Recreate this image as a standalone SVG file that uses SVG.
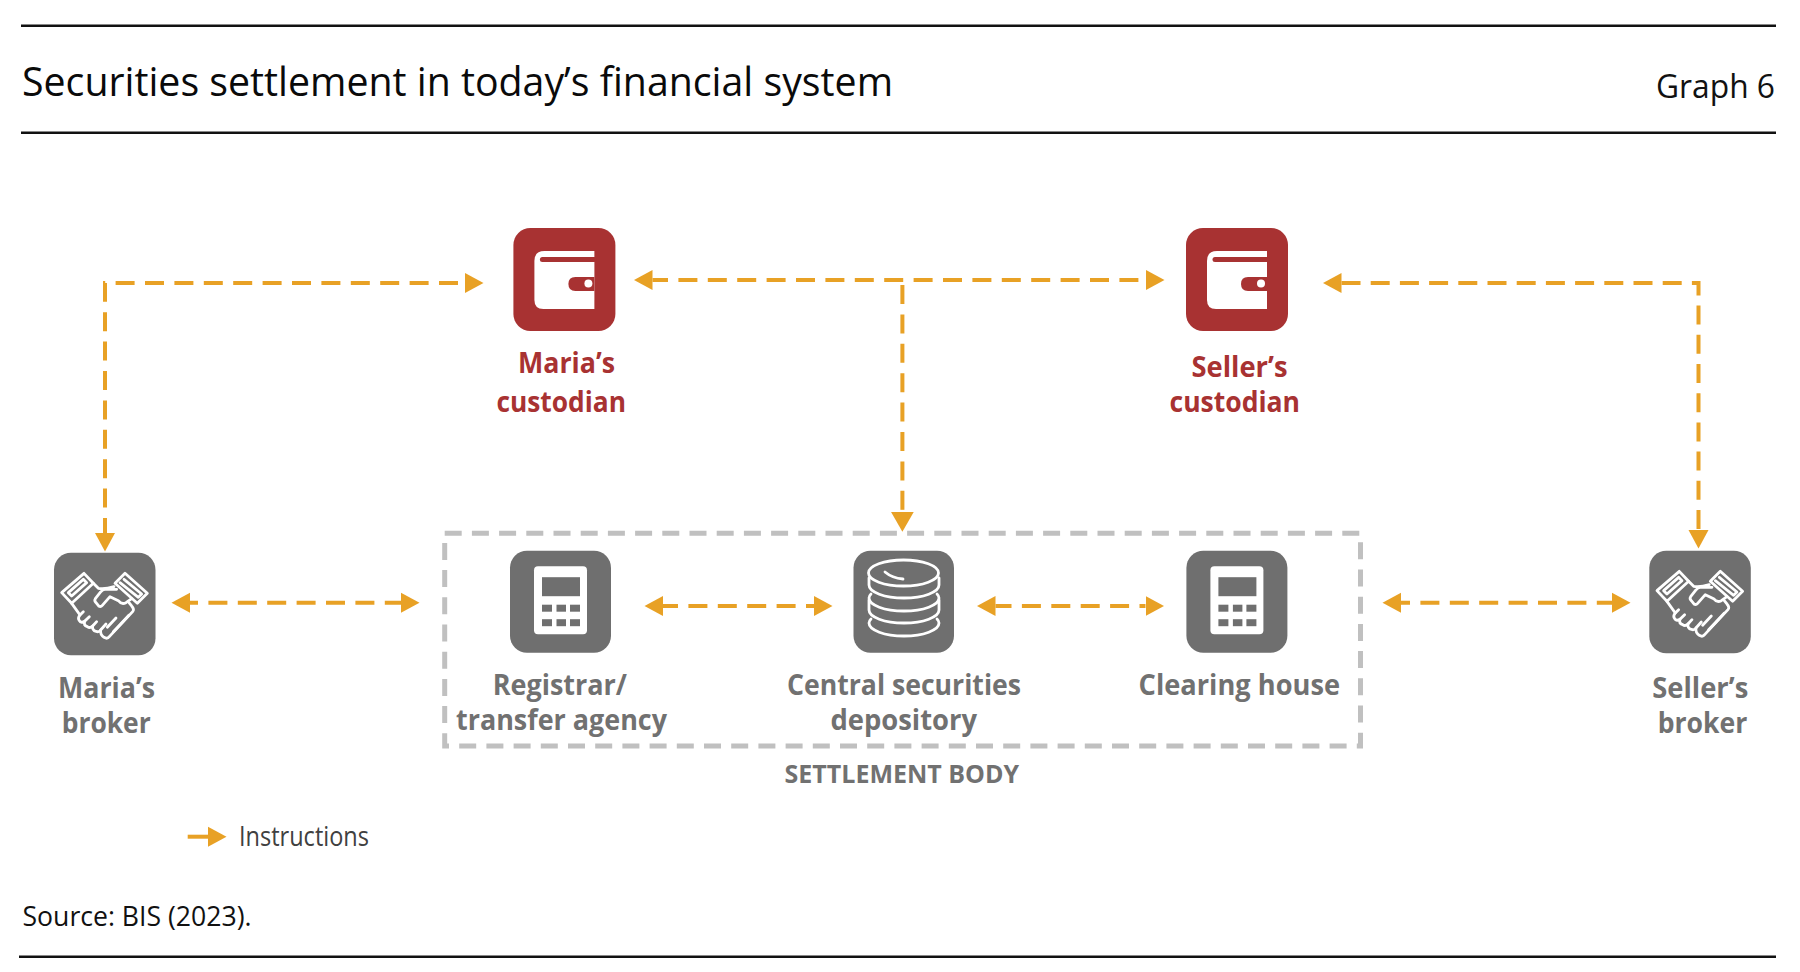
<svg xmlns="http://www.w3.org/2000/svg" width="1800" height="972" viewBox="0 0 1800 972">
<style>
.rule{stroke:#111;stroke-width:2.6;fill:none}
.conn{fill:none;stroke:#e8a125;stroke-width:4;stroke-dasharray:19 10.4}
.solid{fill:none;stroke:#e8a125;stroke-width:4}
.lbl{font-family:"Open Sans","Liberation Sans",sans-serif;font-weight:700;font-size:28px}
.g{fill:#717171}
.r{fill:#a83232}
.plain{font-family:"Open Sans","Liberation Sans",sans-serif;font-weight:400}
.ln{fill:none;stroke:#fff;stroke-width:2.8;stroke-linecap:round;stroke-linejoin:round}
.hs{fill:none;stroke:#fff;stroke-width:8.400;stroke-linecap:round;stroke-linejoin:round}
</style>
<defs>
<marker id="ah" markerUnits="userSpaceOnUse" markerWidth="20" markerHeight="24" refX="0" refY="12" orient="auto-start-reverse">
<path d="M0 2 L18.5 12 L0 22 Z" fill="#e8a125"/>
</marker>
<marker id="ahw" markerUnits="userSpaceOnUse" markerWidth="22" markerHeight="26" refX="0" refY="13" orient="auto-start-reverse">
<path d="M0 1.500 L20 13 L0 24.500 Z" fill="#e8a125"/>
</marker>
<g id="wallet">
<rect x="0" y="0" width="102" height="103" rx="17" fill="#a83232"/>
<path d="M81 23 H31 Q21 23 21 33 V72 Q21 81 30 81 H81 Z" fill="#fff"/>
<path d="M29 31.5 H81" stroke="#a83232" stroke-width="5" stroke-linecap="round" fill="none"/>
<path d="M81 49 H62 Q55 49 55 56 Q55 63 62 63 H81 Z" fill="#a83232"/>
<circle cx="75" cy="55.500" r="4" fill="#fff"/>
</g>
<g id="calc">
<rect x="0" y="0" width="101" height="102" rx="17" fill="#6f6f6f"/>
<rect x="24" y="15.500" width="53" height="68" rx="4" fill="#fff"/>
<rect x="32" y="26.500" width="38" height="19" fill="#6f6f6f"/>
<g fill="#6f6f6f">
<rect x="32" y="54" width="10" height="7"/><rect x="46.500" y="54" width="9.500" height="7"/><rect x="60" y="54" width="10" height="7"/>
<rect x="32" y="68.500" width="10" height="7"/><rect x="46.500" y="68.500" width="9.500" height="7"/><rect x="60" y="68.500" width="10" height="7"/>
</g>
</g>
<g id="shake">
<rect x="0" y="0" width="101.500" height="102.500" rx="17" fill="#6f6f6f"/>
<g class="hs" transform="translate(-4 -2.700) scale(0.3333)">
<path d="M35 128 L102 70 L130 100 L65 160 Z"/>
<path d="M55 128 L100 88 L110 98 L65 138 Z"/>
<path d="M195 100 L225 70 L292 130 L262 160 Z"/>
<path d="M222 88 L275 132 L265 142 L210 98"/>
<path d="M130 100 L145 115 Q165 118 192 110"/>
<path d="M200 118 H165 Q158 118 152 126 L136 146 Q132 152 138 158 L146 168 Q152 172 157 166 L180 140 L205 152 Q215 165 228 158 L245 146"/>
<path d="M65 160 L90 195 Q82 205 88 212 Q92 220 104 214 Q100 226 112 230 Q120 236 128 228 Q126 242 138 244 Q146 248 152 240 Q150 254 162 262 Q172 268 178 260 L248 185 Q254 178 245 168 L237 158"/>
<path d="M152 240 L168 222 M128 228 L140 215 M104 214 L118 200 M90 195 L100 185"/>
<path d="M190 245 L220 214 M212 222 L236 196 M172 232 L198 204"/>
</g>
</g>
</defs>
<rect width="1800" height="972" fill="#fff"/>
<g id="header">
<line class="rule" x1="21" y1="25.700" x2="1776" y2="25.700"/>
<line class="rule" x1="21" y1="132.700" x2="1776" y2="132.700"/>
<line class="rule" x1="19" y1="956.700" x2="1776" y2="956.700"/>
<text class="plain" x="22" y="96" font-size="41" fill="#0a0a0a" textLength="871" lengthAdjust="spacingAndGlyphs">Securities settlement in today’s financial system</text>
<text class="plain" x="1656" y="98" font-size="32" fill="#111" textLength="119" lengthAdjust="spacingAndGlyphs">Graph 6</text>
<text class="plain" x="22.500" y="926" font-size="28" fill="#111" textLength="229" lengthAdjust="spacingAndGlyphs">Source: BIS (2023).</text>
</g>
<g id="settlement-body">
<rect x="444.700" y="533.300" width="915.800" height="212.700" fill="none" stroke="#c0c0c0" stroke-width="5" stroke-dasharray="17 10.200"/>
<text class="lbl g" x="784.600" y="783" style="font-size:25px" textLength="234.500" lengthAdjust="spacingAndGlyphs">SETTLEMENT BODY</text>
</g>
<g id="marias-custodian">
<use href="#wallet" x="513.400" y="228"/>
<text class="lbl r" x="518" y="373" textLength="97" lengthAdjust="spacingAndGlyphs">Maria’s</text>
<text class="lbl r" x="496.400" y="412" textLength="129.600" lengthAdjust="spacingAndGlyphs">custodian</text>
</g>
<g id="sellers-custodian">
<use href="#wallet" x="1186" y="228"/>
<text class="lbl r" x="1191.500" y="377" textLength="96" lengthAdjust="spacingAndGlyphs">Seller’s</text>
<text class="lbl r" x="1169.500" y="412" textLength="130.500" lengthAdjust="spacingAndGlyphs">custodian</text>
</g>
<g id="marias-broker">
<use href="#shake" x="54" y="552.700"/>
<text class="lbl g" x="58" y="698" textLength="97" lengthAdjust="spacingAndGlyphs">Maria’s</text>
<text class="lbl g" x="61.700" y="733" textLength="89" lengthAdjust="spacingAndGlyphs">broker</text>
</g>
<g id="registrar">
<use href="#calc" x="510" y="550.700"/>
<text class="lbl g" x="492.700" y="695" textLength="134.300" lengthAdjust="spacingAndGlyphs">Registrar/</text>
<text class="lbl g" x="456" y="730" textLength="211" lengthAdjust="spacingAndGlyphs">transfer agency</text>
</g>
<g id="csd">
<rect x="853.500" y="550.700" width="100.500" height="102" rx="17" fill="#6f6f6f"/>
<g class="ln">
<ellipse cx="903.500" cy="573" rx="35" ry="13"/>
<path d="M885 572 Q892 578 903 579"/>
<path d="M869 578 V585 A35 13 0 0 0 939 585 V578"/>
<path d="M871 594 Q869 596 869 598 A35 13 0 0 0 939 598 Q939 596 937 594"/>
<path d="M869 600 V610 A35 13 0 0 0 939 610 V600"/>
<path d="M871 619 Q869 621 869 623 A35 13 0 0 0 939 623 Q939 621 937 619"/>
</g>
<text class="lbl g" x="787" y="695" textLength="234" lengthAdjust="spacingAndGlyphs">Central securities</text>
<text class="lbl g" x="830.500" y="730" textLength="146.500" lengthAdjust="spacingAndGlyphs">depository</text>
</g>
<g id="clearing-house">
<use href="#calc" x="1186.400" y="550.700"/>
<text class="lbl g" x="1138.600" y="695" textLength="201.400" lengthAdjust="spacingAndGlyphs">Clearing house</text>
</g>
<g id="sellers-broker">
<use href="#shake" x="1649.300" y="550.700"/>
<text class="lbl g" x="1652.300" y="698" textLength="96" lengthAdjust="spacingAndGlyphs">Seller’s</text>
<text class="lbl g" x="1657.700" y="733" textLength="89.600" lengthAdjust="spacingAndGlyphs">broker</text>
</g>
<g id="connectors">
<path class="conn" marker-start="url(#ah)" marker-end="url(#ah)" d="M105 533 V283 H465" stroke-dashoffset="4"/>
<path class="conn" marker-start="url(#ah)" marker-end="url(#ah)" d="M1341.500 283 H1698.500 V530" style="stroke-dasharray:19 10.200"/>
<path class="conn" marker-start="url(#ah)" marker-end="url(#ah)" d="M652.500 280 H1146" stroke-dashoffset="3.500"/>
<path class="conn" marker-end="url(#ahw)" d="M902.400 285 V511.700"/>
<path class="conn" marker-start="url(#ah)" marker-end="url(#ah)" d="M190 602.700 H401" stroke-dashoffset="11"/>
<path class="conn" marker-start="url(#ah)" marker-end="url(#ah)" d="M663 606 H814" stroke-dashoffset="4"/>
<path class="conn" marker-start="url(#ah)" marker-end="url(#ah)" d="M995.500 606 H1145.500" stroke-dashoffset="3"/>
<path class="conn" marker-start="url(#ah)" marker-end="url(#ah)" d="M1401 602.700 H1612" stroke-dashoffset="10"/>
</g>
<g id="legend">
<path class="solid" marker-end="url(#ah)" d="M187.700 836.700 H208"/>
<text class="plain" x="239" y="846" font-size="27" fill="#404040" textLength="130" lengthAdjust="spacingAndGlyphs">Instructions</text>
</g>
</svg>
